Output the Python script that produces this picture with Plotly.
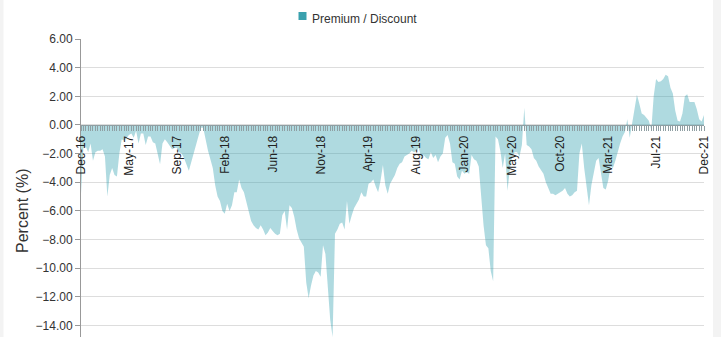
import plotly.graph_objects as go

# Weekly premium / discount (%)
premium_discount = [
    -4.8, -1.6, -1.5, -1.9, -1.3, -2.5, -1.9, -1.8, -1.8, -1.7,
    -2.2, -5.0, -3.5, -3.0, -3.5, -3.6, -2.0, -1.0, -1.1, -0.9,
    -0.7, -0.6, -0.9, -0.4, -1.3, -0.6, -0.6, -1.4, -0.8, -0.8,
    -1.2, -1.3, -2.0, -2.75, -1.3, -1.0, -1.2, -1.5, -1.7, -1.6,
    -1.6, -1.9, -2.0, -2.3, -2.8, -3.2, -2.6, -2.0, -1.3, -0.8,
    -0.2, -0.2, -1.1, -1.8, -2.4, -3.0, -4.2, -5.0, -5.3, -6.0,
    -6.2, -5.5, -6.0, -5.6, -4.7, -4.7, -3.8, -4.4, -4.7, -5.4,
    -6.0, -6.7, -7.0, -7.2, -7.3, -7.0, -7.3, -7.7, -7.5, -7.2,
    -7.4, -7.6, -7.7, -7.6, -6.3, -6.0, -7.3, -5.6, -5.8, -6.4,
    -7.3, -7.9, -8.2, -8.5, -11.0, -12.1, -11.2, -10.5, -10.2, -10.3,
    -10.6, -8.4, -9.0, -11.5, -13.6, -14.8, -7.6, -7.3, -6.9, -6.8,
    -7.3, -5.3, -6.9, -6.3, -5.8, -5.5, -5.2, -4.7, -5.0, -5.0,
    -4.1, -4.0, -3.8, -4.3, -4.7, -3.9, -2.8, -4.2, -4.8, -4.1,
    -3.8, -3.5, -3.0, -2.7, -2.6, -2.2, -2.1, -2.0, -1.8, -1.9,
    -1.8, -1.6, -2.3, -2.1, -2.3, -2.4, -1.9, -2.3, -2.1, -2.6,
    -2.2, -2.0, -0.9, -0.7, -1.3, -2.6, -2.7, -3.6, -3.8, -3.2,
    -3.4, -3.3, -3.4, -2.1, -2.4, -2.5, -2.9, -5.0, -7.0, -8.4,
    -8.6, -10.2, -10.9, -0.8, -1.0, -1.8, -3.0, -2.0, -4.6, -3.0,
    -2.2, -1.9, -1.9, -2.2, -1.4, 1.2, -1.4, -1.5, -1.7, -2.3,
    -2.5, -2.9, -3.2, -3.4, -4.0, -4.4, -4.8, -4.8, -4.9, -4.8,
    -4.7, -4.6, -4.4, -4.8, -5.0, -4.9, -4.7, -4.6, -2.0, -1.3,
    -3.0, -4.4, -5.6, -4.2, -3.2, -2.5, -2.3, -3.3, -4.4, -4.5,
    -3.9, -2.9, -3.0, -2.5, -1.8, -1.3, -0.8, -0.5, 0.4, -0.9,
    0.1, 1.2, 2.1, 1.5, 0.8, 0.7, 0.5, 0.3, -0.35, 2.0,
    3.2, 3.0, 3.05, 3.2, 3.5, 3.4, 2.6, 2.2, 1.0, 0.3,
    0.25, 0.8, 2.0, 2.15, 1.6, 1.6, 1.6, 1.1, 0.4, 0.25,
    0.7,
]
week_index = list(range(len(premium_discount)))

tick_positions = [0, 20, 40, 60, 80, 100, 120, 140, 160, 180, 200, 220, 240, 260]
tick_labels = ["Dec-16", "May-17", "Sep-17", "Feb-18", "Jun-18", "Nov-18", "Apr-19",
               "Aug-19", "Jan-20", "May-20", "Oct-20", "Mar-21", "Jul-21", "Dec-21"]
y_ticks = [-14, -12, -10, -8, -6, -4, -2, 0, 2, 4, 6]

series_name = "Premium / Discount"
Y_MIN, Y_MAX = -14.8, 6.0
W, H = 721, 337
ML, MR, MT, MB = 81, 17, 39, 0
PW, PH = W - ML - MR, H - MT - MB

font_family = "Liberation Sans, Arial, sans-serif"


def px_x(p):
    return (p - ML) / PW


def px_y(p):
    return (H - MB - p) / PH


fig = go.Figure()
fig.add_trace(go.Scatter(
    x=week_index, y=premium_discount, mode="lines", fill="tozeroy",
    fillcolor="rgba(56,163,178,0.4)", line=dict(width=0, color="rgba(56,163,178,0.4)"),
    showlegend=False, hoverinfo="x+y",
))
# legend entry (its symbol is drawn as a square shape next to the text)
fig.add_trace(go.Scatter(
    x=[None], y=[None], mode="markers", name=series_name,
    marker=dict(symbol="square", size=9, color="rgba(0,0,0,0)"),
))

zero_pos = (0 - Y_MIN) / (Y_MAX - Y_MIN)

fig.update_layout(
    width=W, height=H,
    margin=dict(l=ML, r=MR, t=MT, b=MB, pad=0),
    paper_bgcolor="white", plot_bgcolor="white",
    font=dict(family=font_family, size=12, color="#333333"),
    showlegend=True,
    legend=dict(orientation="h", xref="container", yref="container",
                x=272 / W, xanchor="left", y=1 - 4 / H, yanchor="top",
                font=dict(size=12, color="#333333"), itemwidth=30,
                bgcolor="rgba(0,0,0,0)"),
    xaxis=dict(
        range=[0, len(premium_discount) - 1], anchor="free", position=zero_pos,
        showgrid=False, zeroline=False, showline=True, linecolor="#8f9fa3", linewidth=1,
        tickmode="array", tickvals=tick_positions, ticktext=tick_labels,
        ticks="outside", ticklen=5, tickcolor="#8f9fa3", tickwidth=1,
        tickangle=-90, tickfont=dict(size=12, color="#222222"),
        minor=dict(tickmode="linear", tick0=0, dtick=1, ticks="outside",
                   ticklen=5, tickcolor="#8f9fa3", tickwidth=1, showgrid=False),
        fixedrange=True,
    ),
    yaxis=dict(
        range=[Y_MIN, Y_MAX], tickmode="array", tickvals=y_ticks, tickformat=".2f",
        showgrid=True, gridcolor="#dddddd", gridwidth=1, zeroline=False,
        showline=True, linecolor="#999999", linewidth=1,
        ticks="outside", ticklen=5, tickcolor="#999999",
        tickfont=dict(size=12, color="#333333"), fixedrange=True,
    ),
    annotations=[dict(
        text="Percent (%)", textangle=-90, showarrow=False,
        xref="paper", yref="paper",
        x=px_x(22), y=px_y(211), xanchor="center", yanchor="middle",
        font=dict(size=16, color="#333333"),
    )],
    shapes=[
        dict(type="rect", xref="paper", yref="paper", layer="below",
             x0=px_x(0), x1=px_x(3.5), y0=px_y(340), y1=px_y(-3),
             fillcolor="#f3f3f3", line=dict(width=0)),
        dict(type="rect", xref="paper", yref="paper", layer="below",
             x0=px_x(713), x1=px_x(721), y0=px_y(340), y1=px_y(-3),
             fillcolor="#f3f3f3", line=dict(width=0)),
        dict(type="rect", xref="paper", yref="paper", layer="above",
             x0=px_x(298.5), x1=px_x(306.5), y0=px_y(20), y1=px_y(12),
             fillcolor="#3aa1ae", line=dict(width=0)),
    ],
)

fig.write_html("out.html")
